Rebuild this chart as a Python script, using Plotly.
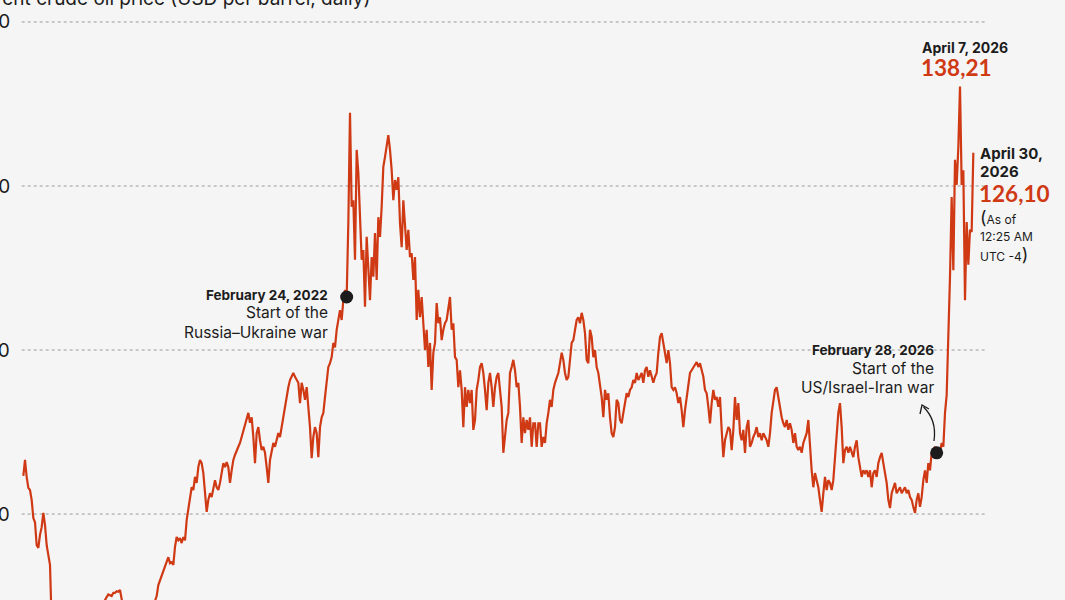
import numpy as np
import plotly.graph_objects as go

prices = [
    67.0, 69.9, 66.8, 64.8, 64.4, 62.6, 59.3, 58.5, 54.3, 53.8, 56.2, 57.6, 60.2, 58.0, 54.3, 52.1, 50.7,
    40, 36, 33, 31, 28, 26, 25, 23, 22, 20, 19, 20, 22, 25, 27, 29, 31, 33, 34, 35, 37, 38, 39, 40,
    40.5, 41, 41.5, 42, 42.5, 43, 43.2, 43.8,
    44.5, 44.8, 45.3, 45.2, 45.0, 45.6, 45.6, 45.9, 45.8, 46.1, 44.4,
    42.8, 42, 41, 40.5, 40, 40.2, 40.5, 41, 41.5, 42, 42.5, 42.8, 43.2, 43.5, 43.8, 44.0, 43.5, 43.8, 44.0, 44.1,
    45.0, 47.0, 47.9, 48.8, 49.4, 50.3, 51.6, 52.1, 51.0, 51.2, 50.7, 54.0, 55.8, 55.2, 55.6, 54.7, 55.8, 55.2,
    58.9, 60.7, 62.6, 64.9, 64.4, 66.8, 65.7, 68.6, 69.9, 69.3, 67.5, 63.8, 60.4, 62.6, 63.8, 63.1, 64.4, 66.2,
    64.9, 64.4, 65.7, 68.0, 69.3, 68.6, 69.5, 68.6, 65.7, 68.0, 69.9, 70.8, 71.7, 72.3, 73.0, 74.1, 74.8, 75.9,
    77.2, 78.5, 76.7, 77.7, 74.1, 69.3, 74.8, 75.9, 73.5, 71.7, 72.3, 71.2, 68.6, 65.7, 69.9, 71.2, 73.0, 72.3,
    73.5, 74.8, 74.1, 75.9, 78.5, 79.6, 82.1, 83.2, 84.5, 85.1, 85.8, 85.1, 84.5, 84.0, 80.3, 84.0, 82.7, 80.9,
    83.2, 79.6, 75.9, 70.2, 74.1, 75.9, 74.8, 70.4, 75.9, 77.7, 78.5, 81.4, 84.5, 86.9, 87.6, 88.7, 91.3, 90.5,
    93.7, 96.0, 97.3, 95.5, 99.1, 101.0, 99.7,
    113.2, 133.4, 116.2, 117.4, 106.5, 126.6, 122.4, 113.2, 106.5, 108.3, 97.9, 110.7, 104.6, 99.1, 107.0,
    103.4, 111.4, 102.8, 114.3, 110.7, 116.2, 123.5, 125.3, 127.1, 129.3, 126.6, 122.9, 117.4, 121.1, 119.3,
    121.6, 113.2, 108.8, 117.4, 113.2, 108.3, 112.0, 107.0, 107.7, 102.8, 107.0, 95.5, 101.0, 96.0, 99.7,
    94.2, 90.0, 93.7, 86.9, 91.3, 82.7, 89.5, 91.3, 98.6, 94.9, 96.0, 91.8, 93.7, 94.9, 95.5, 98.2, 99.7,
    93.7, 94.9, 88.7, 88.2, 83.2, 86.3, 82.7, 75.9, 83.2, 79.6, 82.7, 80.3, 82.7, 75.4, 77.2, 82.7, 84.5,
    86.9, 87.6, 85.8, 82.7, 79.0, 84.0, 85.8, 83.2, 79.6, 83.2, 85.1, 85.8, 82.7, 79.6, 71.2, 74.1, 77.2,
    78.5, 85.8, 86.9, 88.2, 86.3, 83.2, 84.0, 79.6, 73.0, 77.7, 74.8, 77.2, 75.4, 77.7, 72.3, 76.6, 76.6,
    72.3, 76.6, 76.6, 72.3, 74.1, 73.0, 76.6, 78.5, 80.9, 79.6, 82.7, 84.0, 85.1, 85.8, 87.6, 89.5, 88.2,
    85.8, 84.5, 85.1, 88.2, 91.3, 91.8, 93.7, 95.5, 96.0, 94.9, 96.8, 95.5, 93.1, 88.2, 87.6, 93.7, 92.4,
    88.7, 90.0, 86.9, 85.8, 84.0, 81.4, 77.7, 82.7, 80.9, 82.1, 77.7, 74.8, 74.1, 75.9, 80.9, 80.3, 77.2,
    76.6, 78.5, 80.3, 82.1, 81.4, 82.7, 83.2, 84.5, 84.0, 85.8, 84.5, 85.1, 85.8, 84.0, 86.3, 86.9, 85.1,
    86.3, 85.1, 84.0, 85.1, 85.8, 89.5, 92.4, 93.1, 91.3, 89.5, 87.6, 90.0, 87.6, 83.2, 82.7, 83.2, 82.1,
    80.3, 81.4, 79.0, 75.9, 79.0, 81.4, 83.6, 85.8, 86.3, 86.9, 87.3, 87.8, 86.9, 87.6, 86.3, 85.1, 82.7,
    82.1, 79.6, 76.6, 80.3, 82.7, 80.9, 81.4, 79.6, 81.4, 75.4, 70.4, 73.5, 74.8, 75.9, 75.4, 71.7, 75.4,
    81.4, 77.2, 80.3, 74.8, 73.5, 75.4, 71.2, 75.9, 77.2, 72.3, 73.0, 74.1, 74.8, 75.9, 74.1, 74.8, 73.5,
    74.8, 74.1, 73.5, 72.3, 74.8, 78.5, 80.9, 82.7, 83.2, 81.4, 79.0, 77.7, 76.6, 75.9, 77.2, 75.4, 76.6,
    75.4, 73.0, 74.8, 72.3, 71.7, 72.3, 71.2, 73.0, 74.1, 74.8, 77.2, 71.7, 68.0, 64.9, 67.5, 66.2, 64.9,
    62.6, 60.4, 63.8, 66.8, 64.4, 66.2, 65.7, 64.4, 66.2, 69.9, 74.8, 78.5, 80.3, 75.9, 69.3, 71.7, 72.3,
    71.2, 72.3, 71.2, 70.4, 72.3, 73.5, 70.4, 68.6, 66.8, 68.0, 67.5, 68.0, 66.8, 68.0, 64.9, 67.5, 68.0,
    66.8, 69.3, 70.4, 71.2, 69.3, 67.5, 65.7, 62.6, 61.1, 63.8, 64.9, 65.7, 63.8, 64.4, 64.9, 63.8, 64.4,
    64.9, 63.8, 64.4, 63.1, 62.6, 61.3, 60.2, 62.6, 63.8, 61.3, 63.1, 66.2, 68.0, 65.7, 69.3, 68.0, 71.2,
    71.7, 72.3, 71.2,
    71.7, 71.3, 73.0, 72.3, 78.5, 81.8, 91.8, 103.4, 118.0, 104.6, 124.8, 120.2, 127.1, 138.21, 120.2,
    122.9, 99.1, 113.4, 105.6, 112.0, 111.6, 126.10,
]

y_ticks = [60, 90, 120, 150]

# key observations (index into prices)
war_2022_idx = 194
war_2026_idx = 548
peak_idx = 562
last_idx = len(prices) - 1

title_text = "Brent crude oil price (USD per barrel, daily)"
RED = "#cf3914"
DARK = "#1c1c1c"
FONT = "Inter"
NUMFONT = "Lato"
W, H = 1065, 600

def px(x):
    return x / W

def py(y):
    return 1 - y / H

idx = np.arange(len(prices))

fig = go.Figure()
fig.add_trace(go.Scatter(
    x=idx, y=prices, mode="lines",
    line=dict(color=RED, width=2.2),
    hoverinfo="skip", showlegend=False,
))
fig.add_trace(go.Scatter(
    x=[war_2022_idx, war_2026_idx],
    y=[prices[war_2022_idx], prices[war_2026_idx]],
    mode="markers",
    marker=dict(color=DARK, size=13),
    hoverinfo="skip", showlegend=False,
))

shapes = []
for v in y_ticks:
    shapes.append(dict(type="line", xref="x", yref="y", x0=-1, x1=577, y0=v, y1=v,
                       line=dict(color="#9a9a9a", width=1, dash="dot"), layer="below"))

# curved arrow for Feb 28, 2026
shapes.append(dict(type="path", xref="paper", yref="paper",
                   path=f"M {px(934)},{py(441)} Q {px(937)},{py(420)} {px(923.5)},{py(407)}",
                   line=dict(color=DARK, width=1.3)))
shapes.append(dict(type="path", xref="paper", yref="paper",
                   path=f"M {px(920)},{py(414)} L {px(922)},{py(405)} L {px(929)},{py(409)}",
                   line=dict(color=DARK, width=1.3)))

ann = []
for v in y_ticks:
    ann.append(dict(xref="paper", yref="y", x=px(12), y=v, text=str(v), showarrow=False,
                    xanchor="right", yanchor="middle", font=dict(family=FONT, size=19, color=DARK)))

ann.append(dict(xref="paper", yref="paper", x=px(372), y=py(-1), text=title_text, showarrow=False,
                xanchor="right", yanchor="middle", font=dict(family=FONT, size=19, color=DARK)))

def label(x, y, text, anchor, size, color=DARK, bold=False, family=FONT):
    t = f"<b>{text}</b>" if bold else text
    ann.append(dict(xref="paper", yref="paper", x=px(x), y=py(y), text=t, showarrow=False,
                    xanchor=anchor, yanchor="middle", font=dict(family=family, size=size, color=color)))

label(330, 295, "February 24, 2022", "right", 13.5, bold=True)
label(330, 313, "Start of the", "right", 15.5)
label(330, 332, "Russia–Ukraine war", "right", 15.5)

label(936, 350, "February 28, 2026", "right", 13.5, bold=True)
label(936, 368, "Start of the", "right", 15.5)
label(936, 388, "US/Israel-Iran war", "right", 15.5)

label(920, 47, "April 7, 2026", "left", 14, bold=True)
label(919, 68, "138,21", "left", 22.5, color=RED, bold=True, family=NUMFONT)

label(978, 153, "April 30,", "left", 15, bold=True)
label(978, 172, "2026", "left", 15, bold=True)
label(977, 193, "126,10", "left", 22.5, color=RED, bold=True, family=NUMFONT)
label(978, 218, '<span style="font-size:18px">(</span>As of', "left", 12)
label(978, 236, "12:25 AM", "left", 12)
label(978, 254, 'UTC -4<span style="font-size:18px">)</span>', "left", 12)

fig.update_layout(
    width=W, height=H,
    margin=dict(l=0, r=0, t=0, b=0),
    paper_bgcolor="#f5f5f5", plot_bgcolor="#f5f5f5",
    xaxis=dict(visible=False, range=[-14, 625], fixedrange=True),
    yaxis=dict(visible=False, range=[44.28, 154.02], fixedrange=True),
    shapes=shapes, annotations=ann,
    font=dict(family=FONT, color=DARK),
)

fig.write_html("out.html")
